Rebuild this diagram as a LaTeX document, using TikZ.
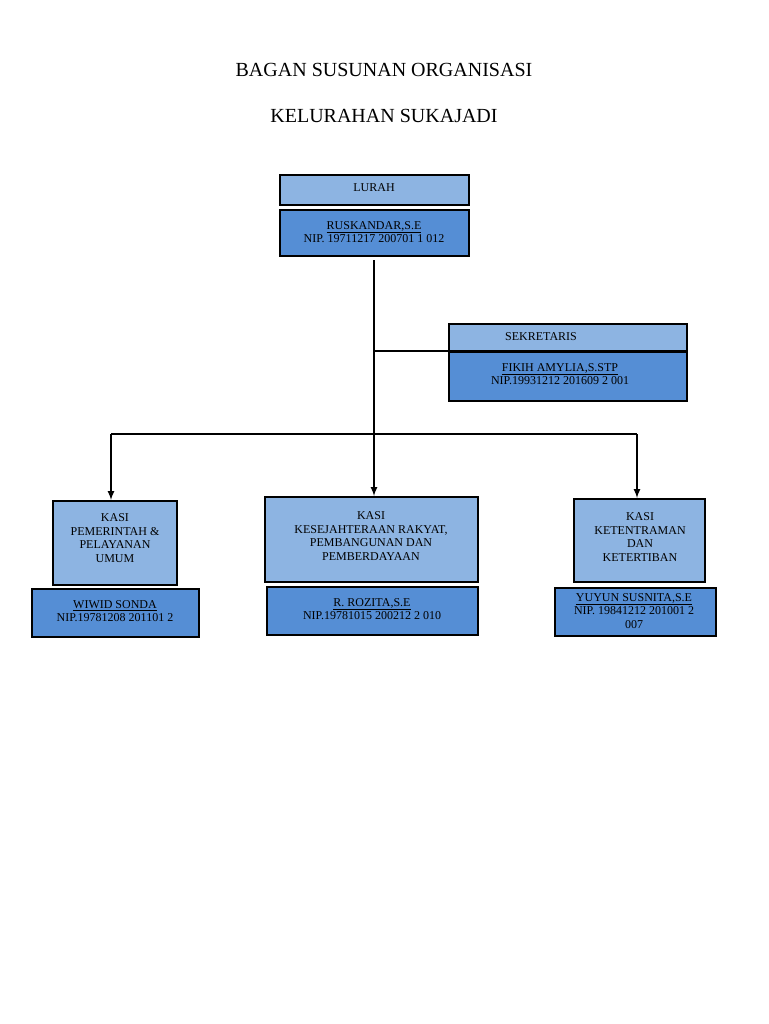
\documentclass[tikz,border=0pt]{standalone}
\usepackage{fontspec}
\setmainfont{Liberation Serif}
\begin{document}
\begin{tikzpicture}[x=1pt,y=-1pt,
 lt/.style={draw=black,line width=2pt,fill=lb},
 dk/.style={draw=black,line width=2pt,fill=db},
 tx/.style={font=\fontsize{12}{13.5}\selectfont,align=center,inner sep=0pt},
 ln/.style={line width=2pt},
 ar/.style={line width=2pt,-latex}]
\definecolor{lb}{HTML}{8DB4E2}
\definecolor{db}{HTML}{558ED5}
\useasboundingbox (0,0) rectangle (768,1024);
\node[font=\fontsize{20}{22}\selectfont] (t1) at (384,70) {BAGAN SUSUNAN ORGANISASI};
\node[font=\fontsize{20}{22}\selectfont] (t2) at (384,116) {KELURAHAN SUKAJADI};
% Lurah
\draw[lt] (280,175) rectangle (469,205);
\node[tx] (lurah) at (374,188) {LURAH};
\draw[dk] (280,210) rectangle (469,256);
\node[tx] (rus) at (374,232) {\underline{RUSKANDAR,S.E}\\NIP. 19711217 200701 1 012};
% Sekretaris
\draw[lt] (449,324) rectangle (687,351);
\node[tx] (sek) at (541,337) {SEKRETARIS};
\draw[dk] (449,352) rectangle (687,401);
\node[tx] (fik) at (560,374) {\underline{FIKIH AMYLIA,S.STP}\\NIP.19931212 201609 2 001};
% Kasi 1
\draw[lt] (53,501) rectangle (177,585);
\node[tx] (k1) at (115,538) {KASI\\PEMERINTAH \&\\PELAYANAN\\UMUM};
\draw[dk] (32,589) rectangle (199,637);
\node[tx] (n1) at (115,611) {\underline{WIWID SONDA}\\NIP.19781208 201101 2};
% Kasi 2
\draw[lt] (265,497) rectangle (478,582);
\node[tx] (k2) at (371,536) {KASI\\KESEJAHTERAAN RAKYAT,\\PEMBANGUNAN DAN\\PEMBERDAYAAN};
\draw[dk] (267,587) rectangle (478,635);
\node[tx] (n2) at (372,609) {\underline{R. ROZITA,S.E}\\NIP.19781015 200212 2 010};
% Kasi 3
\draw[lt] (574,499) rectangle (705,582);
\node[tx] (k3) at (640,537) {KASI\\KETENTRAMAN\\DAN\\KETERTIBAN};
\draw[dk] (555,588) rectangle (716,636);
\begin{scope}
\clip (556,589) rectangle (715,635);
\node[tx,anchor=north] (n3) at (634,593) {\underline{YUYUN SUSNITA,S.E}\\NIP. 19841212 201001 2\\007};
\end{scope}
% connectors
\coordinate (top) at (374,260);
\coordinate (js) at (374,351);
\coordinate (jh) at (374,434);
\coordinate (hl) at (111,434);
\coordinate (hr) at (637,434);
\draw[ar] (top) -- (374,496);
\draw[ln] (js) -- (449,351);
\draw[ln] (hl) -- (hr);
\draw[ar] (hl) -- (111,500);
\draw[ar] (hr) -- (637,498);
\end{tikzpicture}
\end{document}
